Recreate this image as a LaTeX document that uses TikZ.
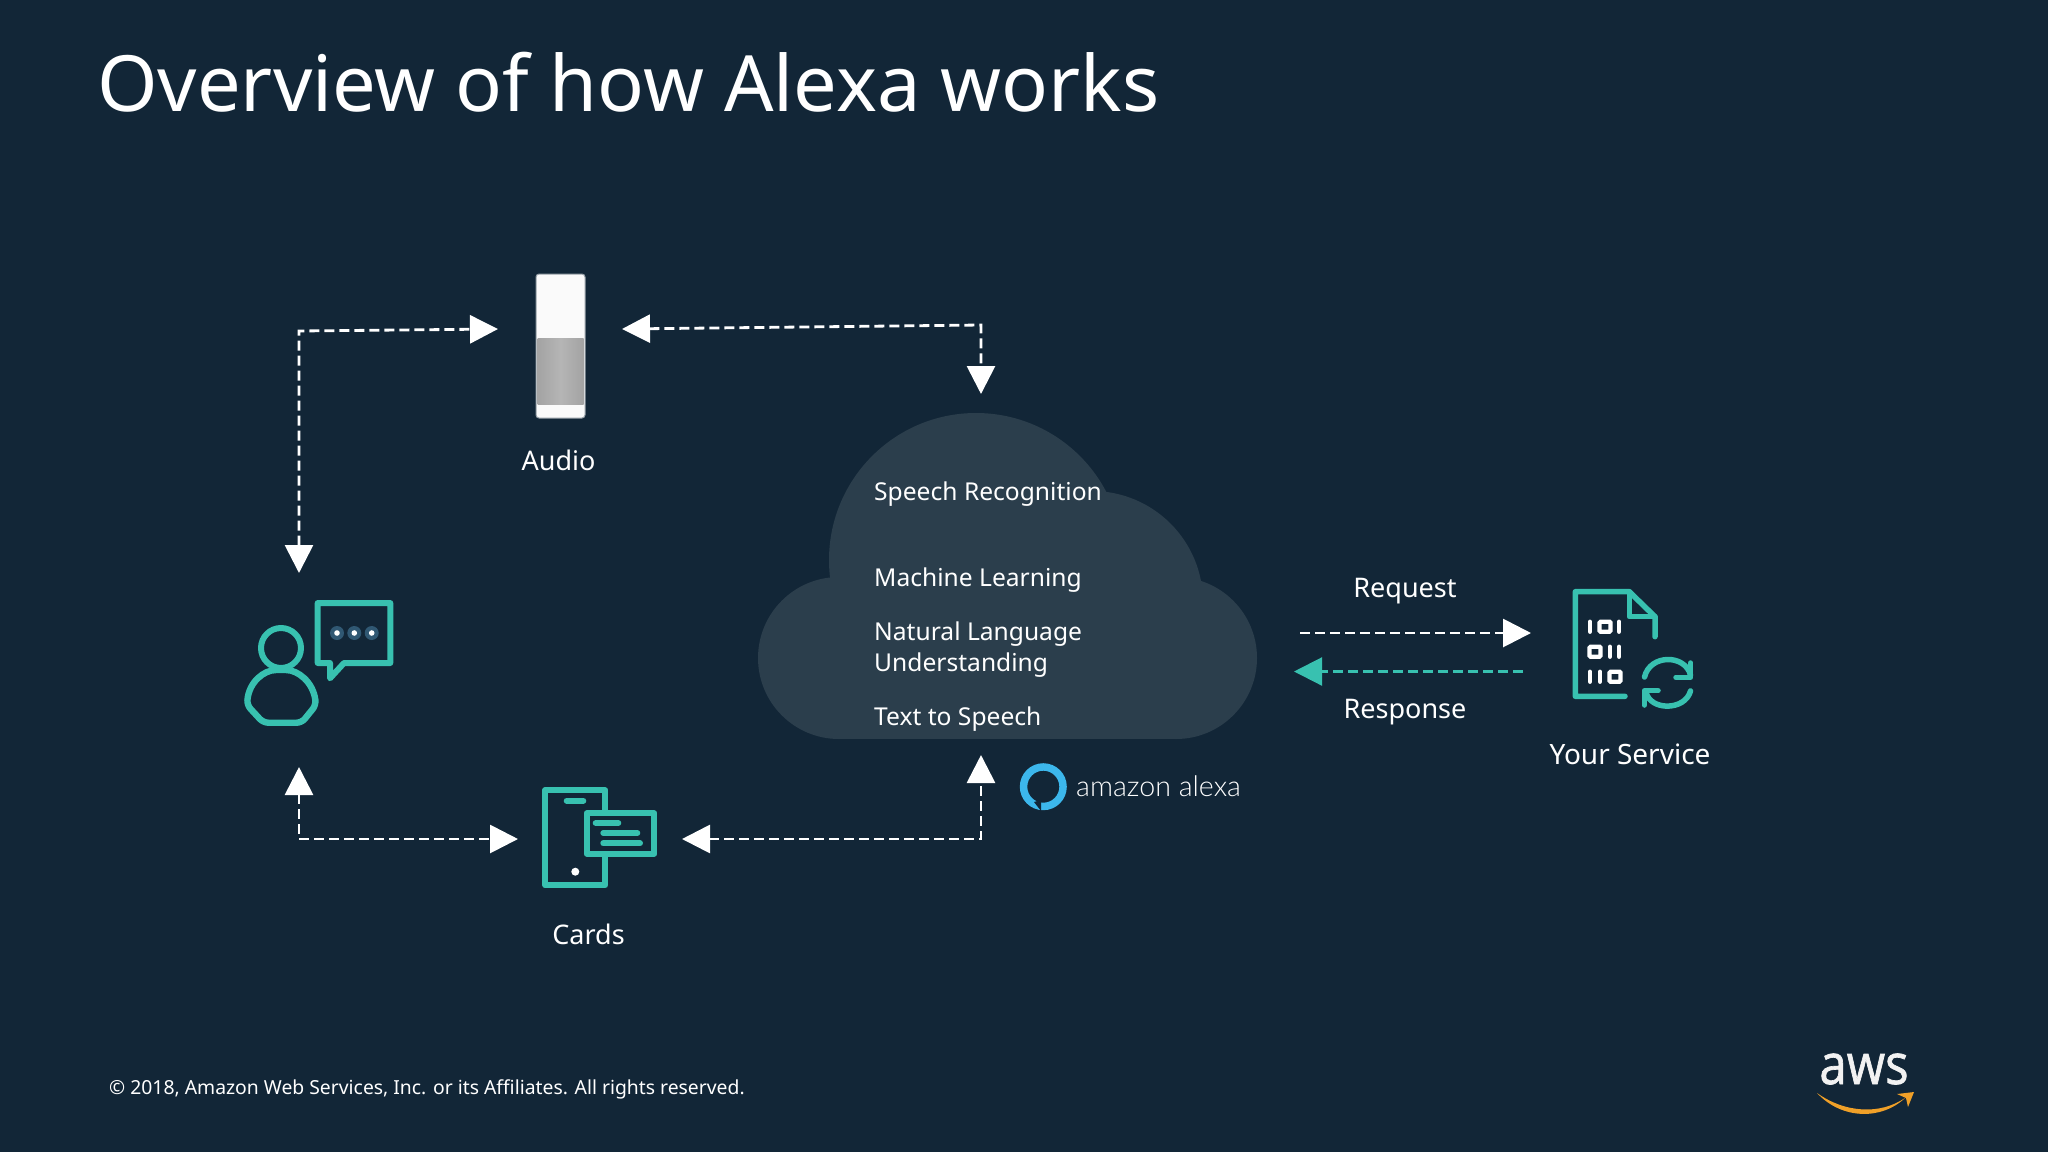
\documentclass[tikz,border=0pt]{standalone}
\usepackage{fontspec}
\setmainfont{Noto Sans}
\newfontfamily\logofont{Lato Light}
\newfontfamily\awsfont[FakeBold=1.2,FakeStretch=0.88]{Open Sans}
\usetikzlibrary{arrows.meta}
\definecolor{bgc}{RGB}{18,38,55}
\definecolor{cloudc}{RGB}{43,62,76}
\definecolor{tealc}{RGB}{56,193,176}
\definecolor{bluec}{RGB}{60,183,236}
\definecolor{haloc}{RGB}{48,88,115}
\definecolor{orangec}{RGB}{240,160,40}
\tikzset{
  flow/.style={draw=white,line width=2.8pt,dash pattern=on 10pt off 5pt,{Triangle[length=28pt,width=28pt]}-{Triangle[length=28pt,width=28pt]}},
  flowout/.style={draw=white,line width=2.8pt,dash pattern=on 10pt off 5pt,-{Triangle[length=28pt,width=28pt]}},
  flowback/.style={draw=tealc,line width=2.2pt,dash pattern=on 10pt off 5pt,-{Triangle[length=28pt,width=28pt,fill=tealc]}},
  icon/.style={draw=tealc,line width=6pt,line join=round,line cap=round},
  bitbar/.style={draw=white,line width=4.8pt,line cap=round},
  bitbox/.style={draw=white,line width=4.2pt,rounded corners=1pt,minimum width=11pt,minimum height=10pt,inner sep=0pt},
  lab/.style={text=white,inner sep=0pt,anchor=base,font=\fontsize{27}{31}\selectfont},
  cloudtext/.style={text=white,inner sep=0pt,anchor=base west,font=\fontsize{24.6}{31}\selectfont},
}
\begin{document}
\begin{tikzpicture}[x=1pt,y=-1pt]
\useasboundingbox (0,0) rectangle (2048,1151.6);
\fill[bgc] (-5,-5) rectangle (2053,1160);

% title and footer
\node[text=white,inner sep=0pt,anchor=base west,font=\fontsize{77.6}{90}\selectfont] (title) at (97,111.5) {Overview of how Alexa works};
\node[text=white,inner sep=0pt,anchor=base west,font=\fontsize{19.35}{24}\selectfont] (copy) at (109,1094) {© 2018, Amazon Web Services, Inc. or its Affiliates. All rights reserved.};

% cloud
\fill[cloudc] (976,560) circle[radius=147];
\fill[cloudc] (1092,602) circle[radius=111];
\fill[cloudc] (839,658) circle[radius=81];
\fill[cloudc] (1176,658) circle[radius=81];
\fill[cloudc] (839,600) rectangle (1176,739);
\node[cloudtext] (sr) at (874,500.5) {Speech Recognition};
\node[cloudtext] (ml) at (874,586) {Machine Learning};
\node[cloudtext] (nl) at (874,640.5) {Natural Language};
\node[cloudtext] (un) at (874,671) {Understanding};
\node[cloudtext] (ts) at (874,725.5) {Text to Speech};

% speaker
\node[fill=white!98!black,draw=white!55!bgc,line width=1pt,rounded corners=3pt,minimum width=49pt,minimum height=144pt,inner sep=0pt] (speaker) at (560.5,346) {};
\shade[left color=gray!72,right color=gray!72,middle color=gray!58] (537.5,338) rectangle (583.5,404);
\node[lab] (audio) at (558.5,470.5) {Audio};

% user icon
\draw[icon] (281,648) circle[radius=20];
\draw[icon,line width=6.4pt,rounded corners=5pt] (247,705) .. controls (249,682) and (264,670) .. (281,670) .. controls (298,670) and (313,682) .. (316,705) -- (301.7,722.7) -- (263.3,722.7) -- cycle;
\draw[icon] (317.7,603) -- (390.3,603) -- (390.3,663) -- (344,663) -- (330,678.3) -- (330,663) -- (317.7,663) -- cycle;
\foreach \dx in {337,354.3,371.7}{
  \fill[haloc] (\dx,633) circle[radius=7];
  \fill[white] (\dx,633) circle[radius=2.8];
}
\coordinate (userN) at (299,573);
\coordinate (userS) at (299,767);

% cards icon
\draw[icon] (545.3,790.3) rectangle (605.3,885.3);
\draw[icon,fill=bgc] (586.7,813.3) rectangle (654.3,853.7);
\draw[icon] (566.7,800.7) -- (583.3,800.7);
\draw[icon] (595.7,823) -- (618.3,823);
\draw[icon] (603.3,833) -- (637.3,833);
\draw[icon] (603.3,843.3) -- (640,843.3);
\fill[white] (575.3,871.7) circle[radius=4];
\node[lab] (cards) at (588.5,944.5) {Cards};

% alexa logo
\fill[bluec,even odd rule] (1043.3,786.7) circle[radius=23.5] (1043.3,786.7) circle[radius=16];
\fill[bgc] (1034,802) -- (1041,811) -- (1041,800) -- cycle;
\node[text=white,inner sep=0pt,anchor=base west,font=\logofont\fontsize{28.6}{32}\selectfont] (alexa) at (1076,796.5) {amazon alexa};

% service icon
\draw[icon,line width=5.5pt] (1625,696.3) -- (1575.3,696.3) -- (1575.3,591.7) -- (1629.3,591.7) -- (1655,616.7) -- (1655,636.7);
\draw[icon,line width=5.5pt] (1629.3,591.7) -- (1629.3,616.7) -- (1655,616.7);
\draw[bitbar] (1590,622) -- (1590,631.5);
\node[bitbox] (b1) at (1605,626.7) {};
\draw[bitbar] (1619,622) -- (1619,631.5);
\node[bitbox] (b2) at (1595,651.7) {};
\draw[bitbar] (1610,647) -- (1610,656.5);
\draw[bitbar] (1619,647) -- (1619,656.5);
\draw[bitbar] (1590,672) -- (1590,681.5);
\draw[bitbar] (1600,672) -- (1600,681.5);
\node[bitbox] (b3) at (1615,676.7) {};
\draw[icon,line width=5.5pt] (1644.5,677) .. controls (1650,654) and (1685,654) .. (1690.5,675);
\draw[icon,line width=5.5pt] (1690.7,663) -- (1690.7,677.3) -- (1676,677.3);
\draw[icon,line width=5.5pt] (1690.5,691) .. controls (1685,711) and (1650,711) .. (1646,692);
\draw[icon,line width=5.5pt] (1644.3,705) -- (1644.3,690.7) -- (1658,690.7);
\node[lab,font=\fontsize{28}{31}\selectfont] (service) at (1630,764.5) {Your Service};

% aws logo
\node[text=white!90!gray,inner sep=0pt,anchor=base,font=\awsfont\fontsize{56}{60}\selectfont] (aws) at (1864,1084) {aws};
\fill[orangec] (1817,1093) .. controls (1845,1113) and (1880,1115) .. (1905,1098) .. controls (1882,1120) and (1842,1120) .. (1817,1093) -- cycle;
\fill[orangec] (1897,1094) -- (1914,1092) -- (1908,1107) -- (1906,1098) -- cycle;

% connectors
\coordinate (spkW) at (498,329);
\coordinate (spkE) at (622,329);
\coordinate (cloudN) at (981,394);
\coordinate (cloudS) at (981,755);
\coordinate (cardW) at (518,839);
\coordinate (cardE) at (682,839);
\coordinate (reqA) at (1300,633);
\coordinate (reqB) at (1531,633);
\coordinate (resA) at (1523,671.5);
\coordinate (resB) at (1294,671.5);
\coordinate (cornerTL) at (299,331);
\coordinate (cornerTR) at (981,325);
\draw[flow] (userN) -- (cornerTL) -- (spkW);
\draw[flow] (spkE) -- (cornerTR) -- (cloudN);
\draw[flow] (userS) |- (cardW);
\draw[flow] (cardE) -| (cloudS);
\draw[flowout] (reqA) -- (reqB);
\draw[flowback] (resA) -- (resB);
\node[lab] (req) at (1405,597) {Request};
\node[lab] (res) at (1405,718.5) {Response};
\end{tikzpicture}
\end{document}
